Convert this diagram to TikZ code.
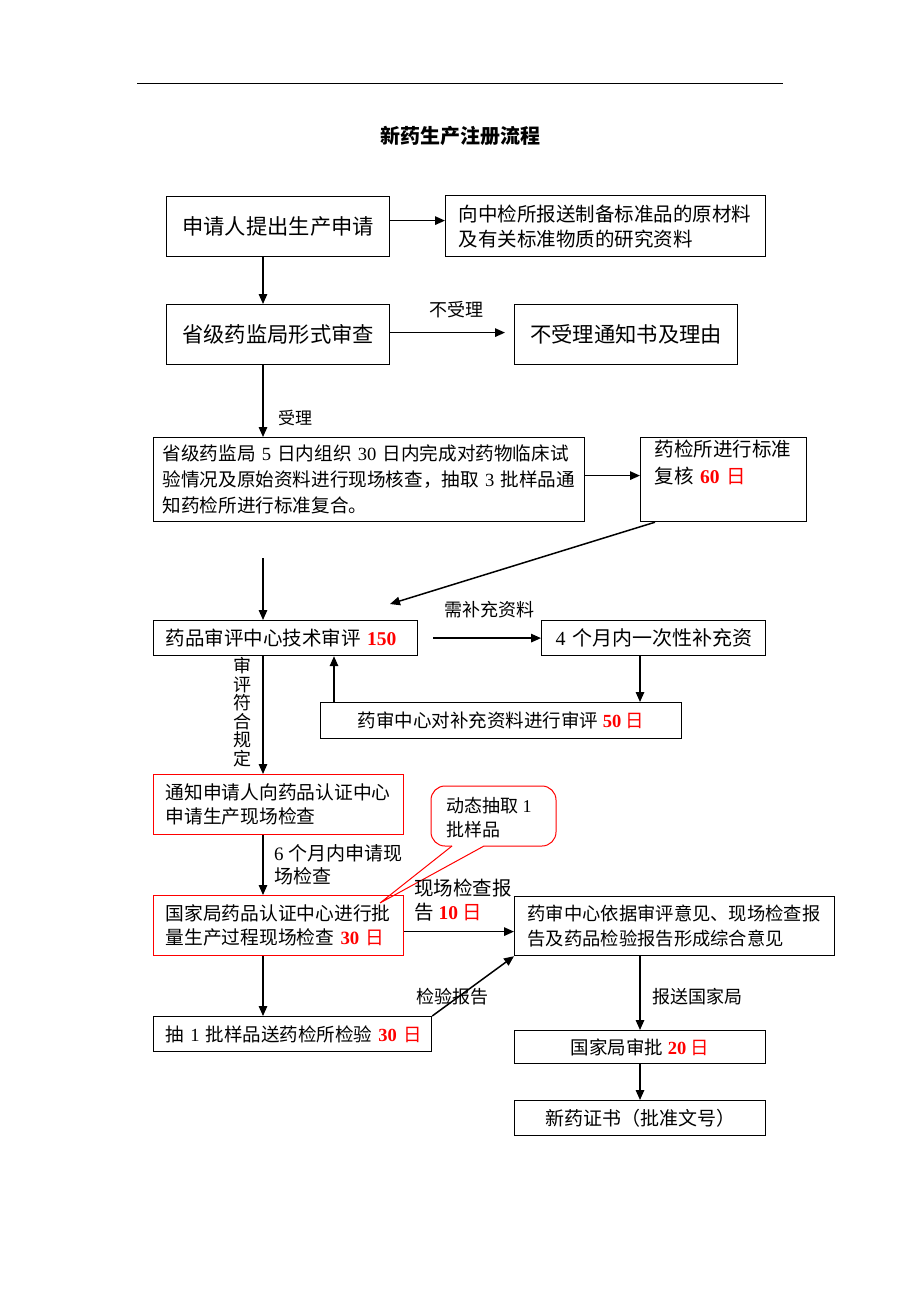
\documentclass[tikz,border=0pt]{standalone}
\usepackage{fontspec}
\setmainfont{Liberation Serif}
\newfontfamily\cjk{Noto Sans CJK SC}
\usetikzlibrary{arrows.meta,calc}
\newcommand\fz[2]{\fontsize{#1}{#2}\selectfont}
\newcommand\dg[1]{{\rmfamily #1}}
\newcommand\rd[1]{{\rmfamily\bfseries\color{red}#1}}
\newcommand\rr[1]{{\color{red}#1}}
\tikzset{
  box/.style={draw=black, line width=1.2pt, anchor=north west, inner sep=0pt, font=\cjk\fz{18.5}{24}},
  rbox/.style={box, draw=red},
  lbox/.style={box, align=left},
  lbl/.style={inner sep=0pt, font=\cjk\fz{18}{24}},
  arr/.style={line width=1.5pt, -{Triangle[length=10pt,width=8.5pt]}},
}
\begin{document}
\begin{tikzpicture}[x=1pt,y=-1pt]
\useasboundingbox[fill=white] (0,0) rectangle (920,1302);
\coordinate (col) at (263,0);
\coordinate (col2) at (640,0);
\coordinate (col3) at (334,0);
% header rule and title
\draw[line width=0.8pt] (137,83) -- (783,83);
\node[inner sep=0pt, font=\cjk\bfseries\fz{20}{24}] (title) at (460,136) {新药生产注册流程};
% boxes
\node[box, minimum width=223pt, minimum height=60pt, font=\cjk\fz{21.3}{24}] (A) at (166,196) {申请人提出生产申请};
\node[lbox, text width=294pt, inner xsep=13pt, minimum height=61pt, font=\cjk\fz{19.5}{25}] (B) at (445,195) {\mbox{向中检所报送制备标准品的原材料}\\及有关标准物质的研究资料};
\node[box, minimum width=223pt, minimum height=60pt, font=\cjk\fz{21.3}{24}] (C) at (166,304) {省级药监局形式审查};
\node[box, minimum width=223pt, minimum height=60pt, font=\cjk\fz{21.3}{24}] (D) at (514,304) {不受理通知书及理由};
\node[lbox, text width=413pt, inner xsep=9pt, minimum height=84pt, font=\cjk\fz{18.6}{26}] (E) at (153,437) {\mbox{省级药监局\dg{~5~}日内组织\dg{~30~}日内完成对药物临床试}\\\mbox{验情况及原始资料进行现场核查，抽取\dg{~3~}批样品通}\\知药检所进行标准复合。};
\node[lbox, text width=138pt, inner xsep=14pt, minimum height=84pt, font=\cjk\fz{19.5}{27}] (F) at (640,437) {\mbox{药检所进行标准}\\\mbox{复核\dg{~}\rd{60}\dg{~}\rr{日}}\\ \strut};
\node[lbox, text width=240pt, inner xsep=12pt, minimum height=35pt, font=\cjk\fz{19.5}{24}] (G) at (153,620) {\mbox{药品审评中心技术审评\dg{~}\rd{150}}};
\node[lbox, text width=196pt, inner xsep=14pt, minimum height=35pt, font=\cjk\fz{20}{24}] (H) at (541,620) {\mbox{\dg{4~}个月内一次性补充资}};
\node[box, minimum width=361pt, minimum height=36pt] (I) at (320,702) {药审中心对补充资料进行审评\dg{~}\rd{50}\dg{~}\rr{日}};
\node[lbox, draw=red, text width=226pt, inner xsep=12pt, minimum height=60pt, font=\cjk\fz{18.75}{24}] (J) at (153,774) {\mbox{通知申请人向药品认证中心}\\申请生产现场检查};
\node[lbox, draw=red, text width=226pt, inner xsep=12pt, minimum height=60pt, font=\cjk\fz{18.75}{24}] (K) at (153,895) {\mbox{国家局药品认证中心进行批}\\\mbox{量生产过程现场检查\dg{~}\rd{30}\dg{~}\rr{日}}};
\node[lbox, text width=294pt, inner xsep=13pt, minimum height=59pt, font=\cjk\fz{18.3}{25}] (L) at (514,896) {\mbox{药审中心依据审评意见、现场检查报}\\告及药品检验报告形成综合意见};
\node[lbox, text width=254pt, inner xsep=12pt, minimum height=35pt] (M) at (153,1016) {\mbox{抽\dg{~1~}批样品送药检所检验\dg{~}\rd{30}\dg{~}\rr{日}}};
\node[box, minimum width=251pt, minimum height=33pt] (N) at (514,1030) {国家局审批\dg{~}\rd{20}\dg{~}\rr{日}};
\node[box, minimum width=251pt, minimum height=35pt, font=\cjk\fz{19}{24}] (O) at (514,1100) {新药证书（批准文号）};
% callout
\draw[red, line width=1pt, rounded corners=14pt] (452,846) -- (431,846) -- (431,786) -- (556,786) -- (556,846) -- (484,846);
\draw[red, line width=1pt] (452,846) -- (380,903) -- (484,846);
\node[lbl, align=left, anchor=west] (cl) at (446,818) {动态抽取\dg{~1}\\批样品};
% labels
\node[lbl] (l1) at (456,310) {不受理};
\node[lbl, font=\cjk\fz{17}{24}] (l2) at (295,418) {受理};
\node[lbl] (l3) at (489,610) {需补充资料};
\node[lbl, align=center, font=\cjk\fz{18}{18.5}] (l4) at (242,712) {审\\评\\符\\合\\规\\定};
\node[lbl, align=left, anchor=west, font=\cjk\fz{19}{23}] (l5) at (274,865) {\dg{6~}个月内申请现\\场检查};
\node[lbl, align=left, anchor=west, font=\cjk\fz{19.5}{24}] (l6) at (414,900) {现场检查报\\告\dg{~}\rd{10}\dg{~}\rr{日}};
\node[lbl] (l7) at (452,997) {检验报告};
\node[lbl] (l8) at (697,997) {报送国家局};
% connectors
\coordinate (g0) at (263,558);
\draw[arr] ([yshift=6pt]A.east) -- ([yshift=6pt]A.east -| B.west);
\draw[arr] (A.south -| col) -- (C.north -| col);
\draw[arr] ([yshift=2pt]C.east) -- ([xshift=-9pt,yshift=2pt]D.west);
\draw[arr] (C.south -| col) -- (E.north -| col);
\draw[arr] ([yshift=4pt]E.east) -- ([yshift=4pt]E.east -| F.west);
\draw[arr] ([xshift=15pt]F.south west) -- ([xshift=237pt,yshift=16pt]G.north west);
\draw[arr] (g0) -- (G.north -| col);
\draw[arr] ([xshift=15pt]G.east) -- (G.east -| H.west);
\draw[arr] (H.south -| col2) -- (I.north -| col2);
\draw[arr] (I.north -| col3) -- (G.south -| col3);
\draw[arr] (G.south -| col) -- (J.north -| col);
\draw[arr] (J.south -| col) -- (K.north -| col);
\draw[arr] ([yshift=-6pt]K.east) -- ([yshift=-6pt]K.east -| L.west);
\draw[arr] (K.south -| col) -- (M.north -| col);
\draw[arr] (M.north east) -- (L.south west);
\draw[arr] (L.south -| col2) -- (N.north -| col2);
\draw[arr] (N.south -| col2) -- (O.north -| col2);
\end{tikzpicture}
\end{document}
